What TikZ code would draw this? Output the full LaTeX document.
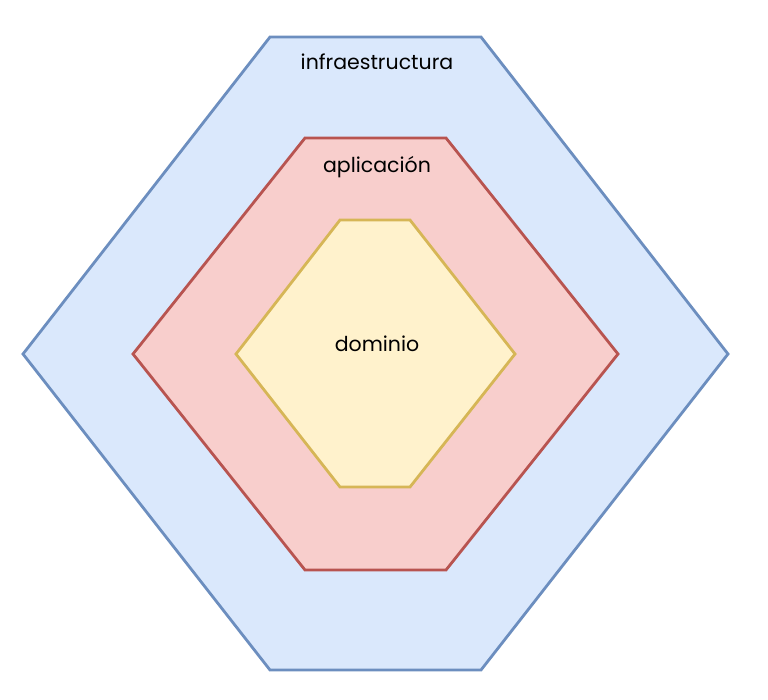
\documentclass[tikz,border=0pt]{standalone}
\usepackage{fontspec}
\setmainfont{Poppins}
\definecolor{bluefill}{HTML}{DAE8FC}
\definecolor{bluedraw}{HTML}{6C8EBF}
\definecolor{redfill}{HTML}{F8CECC}
\definecolor{reddraw}{HTML}{B85450}
\definecolor{yelfill}{HTML}{FFF2CC}
\definecolor{yeldraw}{HTML}{D6B656}
\begin{document}
\begin{tikzpicture}[x=1pt,y=-1pt,
  hexline/.style={line width=2.8pt,line join=miter},
  lbl/.style={font=\fontsize{20.5}{24}\selectfont,text=black,inner sep=0pt}]
\useasboundingbox (0,0) rectangle (768,700);
\fill[white] (0,0) rectangle (768,700);
\draw[hexline,draw=bluedraw,fill=bluefill] (270,37) -- (481,37) -- (728,354) -- (481,670) -- (270,670) -- (23,354) -- cycle;
\draw[hexline,draw=reddraw,fill=redfill] (305,138) -- (446,138) -- (618,354) -- (446,570) -- (305,570) -- (133,354) -- cycle;
\draw[hexline,draw=yeldraw,fill=yelfill] (340,220) -- (410,220) -- (515,354) -- (410,487) -- (340,487) -- (236,354) -- cycle;
\node[lbl] (infra) at (377,62) {infraestructura};
\node[lbl] (apli) at (377,167) {aplicación};
\node[lbl] (dom) at (377,344) {dominio};
\end{tikzpicture}
\end{document}
